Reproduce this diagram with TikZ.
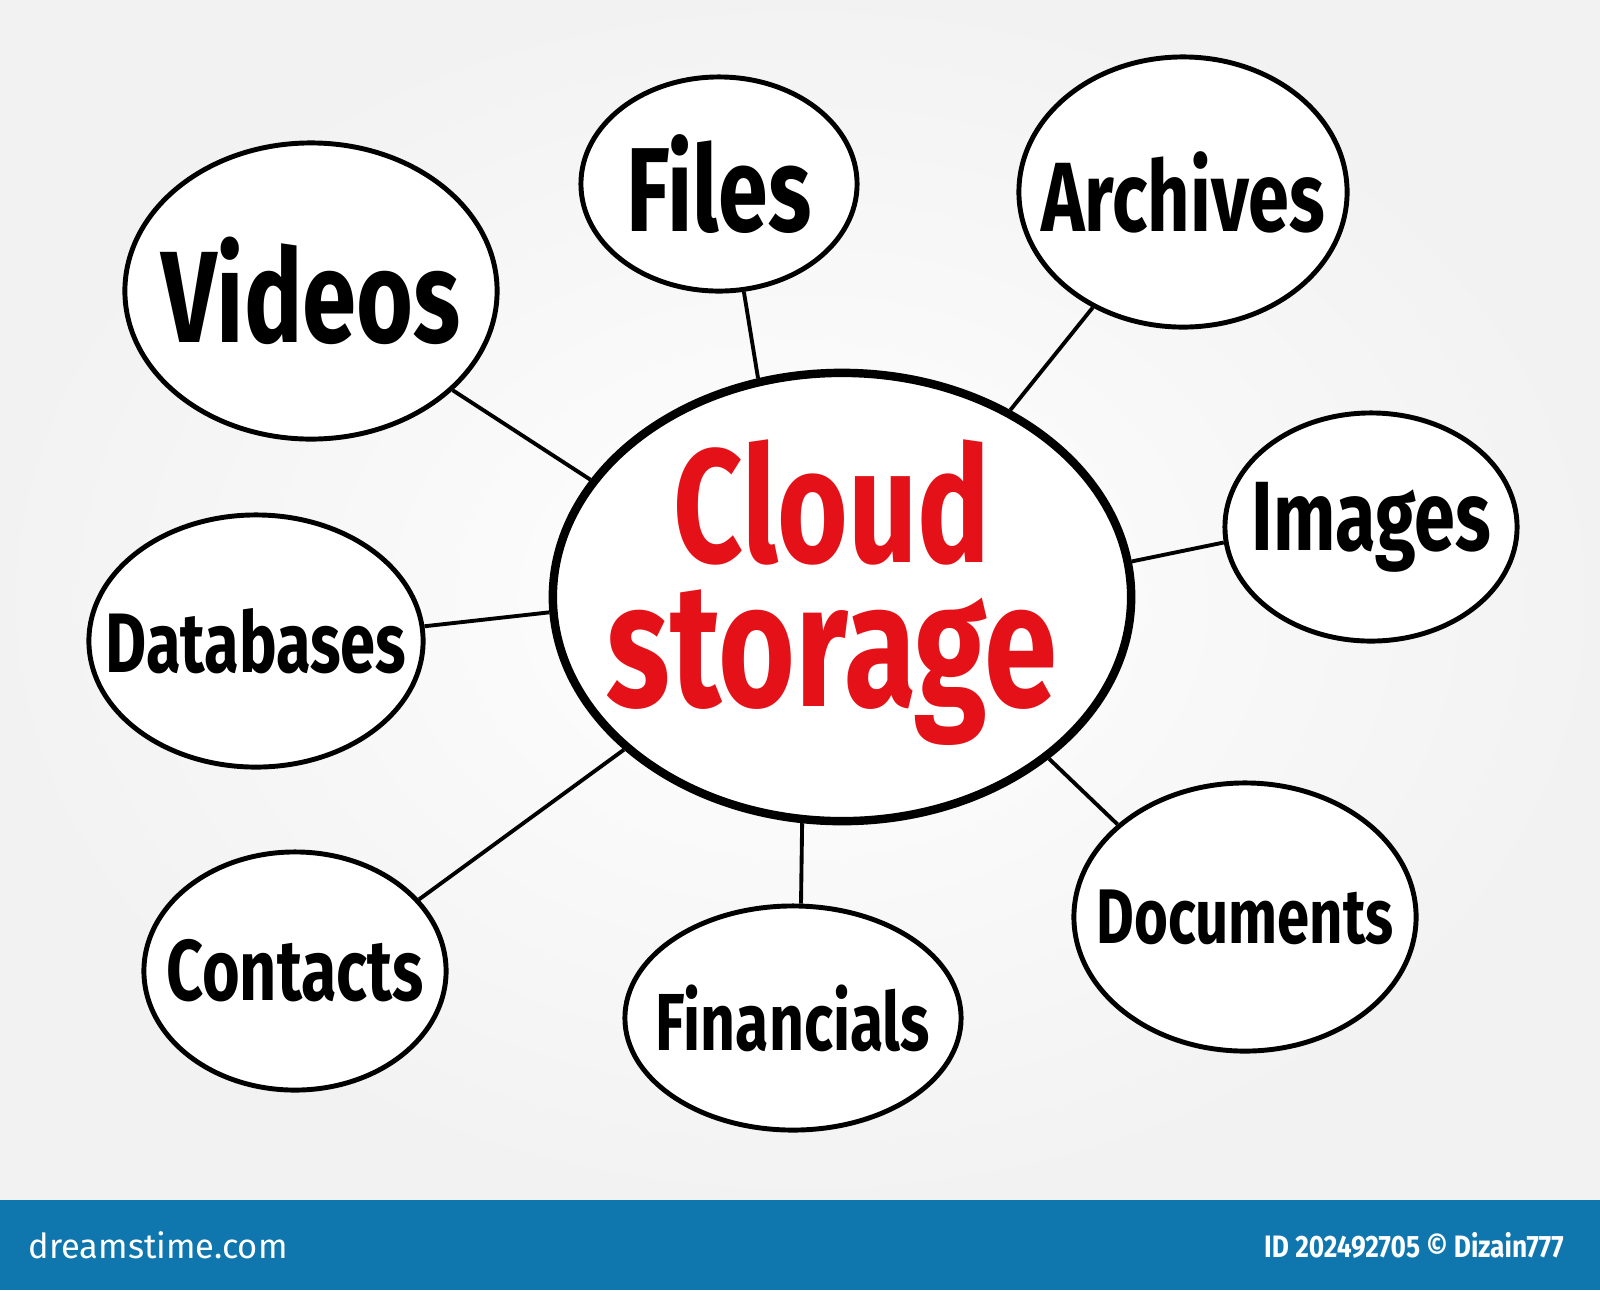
\documentclass[tikz,border=0pt]{standalone}
\usepackage{fontspec}
\setmainfont{Fira Sans}
\newfontfamily\handfont[FakeStretch=0.75]{Fira Sans}
\newfontfamily\barfont[FakeStretch=0.85]{Fira Sans}
\usetikzlibrary{shapes.geometric}
\definecolor{cloudred}{RGB}{228,18,24}
\definecolor{barblue}{RGB}{16,119,174}

\begin{document}
\begin{tikzpicture}
    [
      x=0.01cm, y=-0.01cm,
      topic/.style={ellipse, draw=black, line width=1.4pt, fill=white, inner sep=0pt},
      hub/.style={ellipse, draw=black, line width=2.4pt, fill=white, inner sep=0pt},
      link/.style={line width=1.1pt},
      hand/.style={font=\handfont\bfseries\fontsize{#1}{#1}\selectfont},
    ]
    %
    \shade [inner color=white, outer color=gray!10] (0,0) rectangle (1600,1200);
    \fill [barblue] (0,1200) rectangle (1600,1290);

    % centre
    \node [hub, minimum width=5.78cm, minimum height=4.48cm,
           label={[text=cloudred, align=center, xshift=-0.1cm, yshift=0.04cm,
                   font=\handfont\bfseries\fontsize{50}{41}\selectfont]center:{{\fontsize{46}{41}\selectfont Cloud}\\storage}}]
          (cloud) at (842,597) {};

    % topics
    \node [topic, minimum width=2.76cm, minimum height=2.14cm, label={[hand=34]center:Files}]        (files)      at (719,184)  {};
    \node [topic, minimum width=3.28cm, minimum height=2.70cm, label={[hand=28]center:Archives}]     (archives)   at (1183,192) {};
    \node [topic, minimum width=3.72cm, minimum height=2.96cm, label={[hand=37]center:Videos}]       (videos)     at (311,291)  {};
    \node [topic, minimum width=2.92cm, minimum height=2.28cm, label={[hand=28]center:Images}]       (images)     at (1371,527) {};
    \node [topic, minimum width=3.34cm, minimum height=2.52cm, label={[hand=24]center:Databases}]    (databases)  at (256,641)  {};
    \node [topic, minimum width=3.42cm, minimum height=2.68cm, label={[hand=22]center:Documents}]    (documents)  at (1245,917) {};
    \node [topic, minimum width=3.02cm, minimum height=2.38cm, label={[hand=24.5]center:Contacts}]   (contacts)   at (295,971)  {};
    \node [topic, minimum width=3.36cm, minimum height=2.24cm, label={[hand=23]center:Financials}]   (financials) at (793,1018) {};

    % links
    \draw [link] (videos.325)     -- (cloud.155);
    \draw [link] (files.283)      -- (cloud.111);
    \draw [link] (archives.232)   -- (cloud.48);
    \draw [link] (images.186)     -- (cloud.7);
    \draw [link] (databases.5)    -- (cloud.183);
    \draw [link] (documents.144)  -- (cloud.322);
    \draw [link] (financials.86)  -- (cloud.260);
    \draw [link] (contacts.30)    -- (cloud.215);

    % bar
    \node [anchor=west, text=white, font=\fontsize{9.8}{12}\selectfont] (site) at (16,1245) {dreamstime.com};
    \node [anchor=east, text=white, font=\barfont\bfseries\fontsize{8.8}{10}\selectfont] (credit) at (1576,1245) {ID 202492705 © Dizain777};
  \end{tikzpicture}
\end{document}
